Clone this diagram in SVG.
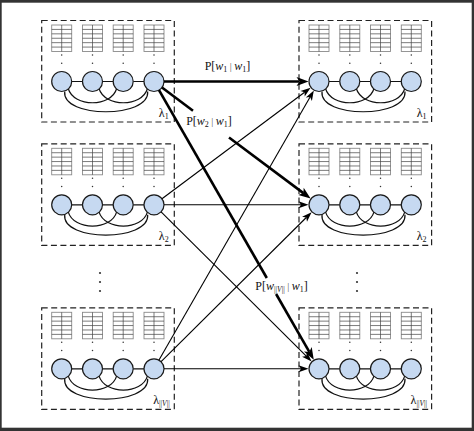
<svg xmlns="http://www.w3.org/2000/svg" xmlns:xlink="http://www.w3.org/1999/xlink" width="474" height="431" viewBox="0 0 474 431">
<style>
.box{fill:none;stroke:#222;stroke-width:1.2;stroke-dasharray:6 3.5}
.tout{fill:#fff;stroke:#8a8a8a;stroke-width:0.9}
.tin{stroke:#444;stroke-width:0.7;fill:none}
.st{fill:#c6d9f1;stroke:#1a1a1a;stroke-width:1.2}
.ed{fill:none;stroke:#111;stroke-width:1.2}
.thick{fill:none;stroke:#000;stroke-width:2.6}
.thin{fill:none;stroke:#000;stroke-width:1.1}
.lbl{font-family:"Liberation Serif",serif;font-size:12px;fill:#111}
.lam{font-family:"Liberation Serif",serif;font-size:12px;fill:#111}
.bar{font-size:10px;fill:#555}
.dot{fill:#333}
</style>
<defs>
<marker id="ahT" markerUnits="userSpaceOnUse" markerWidth="12" markerHeight="9" refX="3" refY="4.5" orient="auto" overflow="visible">
<path d="M0,0 L12,4.5 L0,9 L3,4.5 z" fill="#000"/>
</marker>
<marker id="ahN" markerUnits="userSpaceOnUse" markerWidth="10" markerHeight="7" refX="2.5" refY="3.5" orient="auto" overflow="visible">
<path d="M0,0 L10,3.5 L0,7 L2.5,3.5 z" fill="#000"/>
</marker>
<g id="tbl">
<rect class="tout" x="-10" y="4.5" width="20" height="26.5"/>
<path class="tin" d="M-10,8.92H10M-10,13.33H10M-10,17.75H10M-10,22.17H10M-10,26.58H10M0,4.5V31"/>
<circle class="dot" cx="0" cy="34.5" r="0.75"/>
<circle class="dot" cx="0" cy="42.8" r="0.75"/>
</g>
<g id="unit">
<rect class="box" x="0" y="0" width="132.6" height="101.5"/>
<use xlink:href="#tbl" x="20" y="0"/>
<use xlink:href="#tbl" x="50.8" y="0"/>
<use xlink:href="#tbl" x="81.5" y="0"/>
<use xlink:href="#tbl" x="112.3" y="0"/>
<path class="ed" d="M30,61H40.8M60.8,61H71.5M91.5,61H102.3"/>
<path class="ed" d="M26.5,68 C32,87 69.5,87 75,68"/>
<path class="ed" d="M57.3,68 C63,87 100.3,87 105.8,68"/>
<path class="ed" d="M23,71 C20,98 108,98 106,71"/>
<circle class="st" cx="20" cy="61" r="10"/>
<circle class="st" cx="50.8" cy="61" r="10"/>
<circle class="st" cx="81.5" cy="61" r="10"/>
<circle class="st" cx="112.3" cy="61" r="10"/>
</g>
</defs>
<rect x="0" y="0" width="474" height="431" fill="#333"/>
<rect x="1.7" y="2.7" width="470" height="425" fill="#fff"/>

<g id="node-left-1" transform="translate(41.7,20.5)">
<use xlink:href="#unit"/>
<text class="lam" x="127" y="96" text-anchor="end">λ<tspan font-size="8" dy="2">1</tspan></text>
</g>
<g id="node-left-2" transform="translate(41.7,143.8)">
<use xlink:href="#unit"/>
<text class="lam" x="127" y="96" text-anchor="end">λ<tspan font-size="8" dy="2">2</tspan></text>
</g>
<g id="node-left-V" transform="translate(41.7,307.8)">
<use xlink:href="#unit"/>
<text class="lam" x="128" y="96" text-anchor="end">λ<tspan font-size="7.5" dy="2">||<tspan font-style="italic">V</tspan>||</tspan></text>
</g>
<g id="node-right-1" transform="translate(299,20.5)">
<use xlink:href="#unit"/>
<text class="lam" x="127.5" y="96" text-anchor="end">λ<tspan font-size="8" dy="2">1</tspan></text>
</g>
<g id="node-right-2" transform="translate(299,143.8)">
<use xlink:href="#unit"/>
<text class="lam" x="127.5" y="96" text-anchor="end">λ<tspan font-size="8" dy="2">2</tspan></text>
</g>
<g id="node-right-V" transform="translate(299,307.8)">
<use xlink:href="#unit"/>
<text class="lam" x="128" y="96" text-anchor="end">λ<tspan font-size="7.5" dy="2">||<tspan font-style="italic">V</tspan>||</tspan></text>
</g>

<g id="ellipsis">
<circle class="dot" cx="100" cy="273" r="1.1"/>
<circle class="dot" cx="100" cy="282" r="1.1"/>
<circle class="dot" cx="100" cy="291" r="1.1"/>
<circle class="dot" cx="357" cy="273" r="1.1"/>
<circle class="dot" cx="357" cy="282" r="1.1"/>
<circle class="dot" cx="357" cy="291" r="1.1"/>
</g>

<g id="connectors">
<path class="thick" d="M164,81.5 L299.5,81.5" marker-end="url(#ahT)"/>
<path class="thick" d="M162,87.5 L193,110.7"/>
<path class="thick" d="M229,137.5 L303.4,193.1" marker-end="url(#ahT)"/>
<path class="thick" d="M159,90.2 L266.8,278"/>
<path class="thick" d="M276.1,294 L309.3,351.9" marker-end="url(#ahT)"/>
<path class="thin" d="M162,198.8 L304.6,92.3" marker-end="url(#ahN)"/>
<path class="thin" d="M164,204.8 L301,204.8" marker-end="url(#ahN)"/>
<path class="thin" d="M161.1,211.9 L306.3,356.1" marker-end="url(#ahN)"/>
<path class="thin" d="M159,360.1 L310.1,97.1" marker-end="url(#ahN)"/>
<path class="thin" d="M161.1,361.7 L306.3,217.5" marker-end="url(#ahN)"/>
<path class="thin" d="M164,368.8 L301,368.8" marker-end="url(#ahN)"/>
<text class="lbl" x="227.5" y="70" text-anchor="middle">P[<tspan font-style="italic">w</tspan><tspan font-size="8" dy="2">1</tspan><tspan dy="-2" class="bar"> | </tspan><tspan font-style="italic">w</tspan><tspan font-size="8" dy="2">1</tspan><tspan dy="-2">]</tspan></text>
<text class="lbl" x="209" y="125" text-anchor="middle">P[<tspan font-style="italic">w</tspan><tspan font-size="8" dy="2">2</tspan><tspan dy="-2" class="bar"> | </tspan><tspan font-style="italic">w</tspan><tspan font-size="8" dy="2">1</tspan><tspan dy="-2">]</tspan></text>
<text class="lbl" x="281.5" y="290" text-anchor="middle">P[<tspan font-style="italic">w</tspan><tspan font-size="7.5" dy="2">||<tspan font-style="italic">V</tspan>||</tspan><tspan dy="-2" class="bar"> | </tspan><tspan font-style="italic">w</tspan><tspan font-size="8" dy="2">1</tspan><tspan dy="-2">]</tspan></text>
</g>
</svg>
